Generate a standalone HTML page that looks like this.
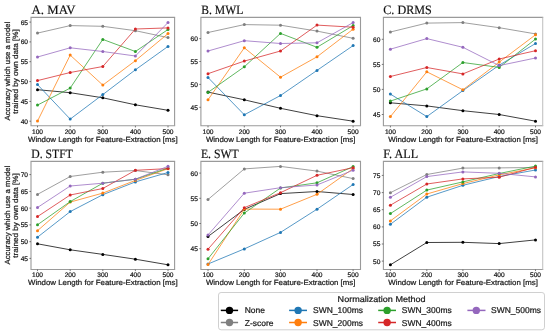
<!DOCTYPE html>
<html><head><meta charset="utf-8"><title>Normalization comparison</title>
<style>html,body{margin:0;padding:0;background:#fff;}svg{display:block;filter:blur(0.25px);}text{font-family:"Liberation Sans", sans-serif;text-rendering:geometricPrecision;stroke:#1a1a1a;stroke-width:0.22px;}text.ttl{font-family:"Liberation Serif", serif;stroke:#111;stroke-width:0.18px;}</style></head><body>
<svg width="550" height="335" viewBox="0 0 550 335">
<rect x="0" y="0" width="550" height="335" fill="#fff"/>
<text class="ttl" x="31.6" y="13.6" font-size="12.8" fill="#111" textLength="44.0" lengthAdjust="spacingAndGlyphs">A. MAV</text>
<path d="M30.45 17.40 H175.15 M31.00 17.40 V125.80 M30.45 125.80 H175.15" fill="none" stroke="#9a9a9a" stroke-width="1.1"/>
<path d="M174.60 17.40 V125.80" fill="none" stroke="#9a9a9a" stroke-width="1.1"/>
<line x1="29.4" y1="22.10" x2="31.0" y2="22.10" stroke="#555" stroke-width="0.8"/>
<text x="28.0" y="24.55" font-size="6.6" fill="#1a1a1a" text-anchor="end">65</text>
<line x1="29.4" y1="41.90" x2="31.0" y2="41.90" stroke="#555" stroke-width="0.8"/>
<text x="28.0" y="44.35" font-size="6.6" fill="#1a1a1a" text-anchor="end">60</text>
<line x1="29.4" y1="61.70" x2="31.0" y2="61.70" stroke="#555" stroke-width="0.8"/>
<text x="28.0" y="64.15" font-size="6.6" fill="#1a1a1a" text-anchor="end">55</text>
<line x1="29.4" y1="81.60" x2="31.0" y2="81.60" stroke="#555" stroke-width="0.8"/>
<text x="28.0" y="84.05" font-size="6.6" fill="#1a1a1a" text-anchor="end">50</text>
<line x1="29.4" y1="101.40" x2="31.0" y2="101.40" stroke="#555" stroke-width="0.8"/>
<text x="28.0" y="103.85" font-size="6.6" fill="#1a1a1a" text-anchor="end">45</text>
<line x1="29.4" y1="121.20" x2="31.0" y2="121.20" stroke="#555" stroke-width="0.8"/>
<text x="28.0" y="123.65" font-size="6.6" fill="#1a1a1a" text-anchor="end">40</text>
<line x1="37.50" y1="125.8" x2="37.50" y2="127.4" stroke="#555" stroke-width="0.8"/>
<text x="37.50" y="133.5" font-size="6.6" fill="#1a1a1a" text-anchor="middle">100</text>
<line x1="70.20" y1="125.8" x2="70.20" y2="127.4" stroke="#555" stroke-width="0.8"/>
<text x="70.20" y="133.5" font-size="6.6" fill="#1a1a1a" text-anchor="middle">200</text>
<line x1="102.80" y1="125.8" x2="102.80" y2="127.4" stroke="#555" stroke-width="0.8"/>
<text x="102.80" y="133.5" font-size="6.6" fill="#1a1a1a" text-anchor="middle">300</text>
<line x1="135.40" y1="125.8" x2="135.40" y2="127.4" stroke="#555" stroke-width="0.8"/>
<text x="135.40" y="133.5" font-size="6.6" fill="#1a1a1a" text-anchor="middle">400</text>
<line x1="168.00" y1="125.8" x2="168.00" y2="127.4" stroke="#555" stroke-width="0.8"/>
<text x="168.00" y="133.5" font-size="6.6" fill="#1a1a1a" text-anchor="middle">500</text>
<text x="102.80" y="141.7" font-size="7.55" fill="#1a1a1a" text-anchor="middle" textLength="149.6" lengthAdjust="spacingAndGlyphs">Window Length for Feature-Extraction [ms]</text>
<polyline points="37.50,89.70 70.20,92.70 102.80,97.80 135.40,104.80 168.00,110.30" fill="none" stroke="#000000" stroke-width="0.75" stroke-linejoin="round"/>
<circle cx="37.50" cy="89.70" r="1.50" fill="#000000"/>
<circle cx="70.20" cy="92.70" r="1.50" fill="#000000"/>
<circle cx="102.80" cy="97.80" r="1.50" fill="#000000"/>
<circle cx="135.40" cy="104.80" r="1.50" fill="#000000"/>
<circle cx="168.00" cy="110.30" r="1.50" fill="#000000"/>
<polyline points="37.50,33.10 70.20,25.60 102.80,26.30 135.40,30.70 168.00,37.60" fill="none" stroke="#7f7f7f" stroke-width="0.75" stroke-linejoin="round"/>
<circle cx="37.50" cy="33.10" r="1.50" fill="#7f7f7f"/>
<circle cx="70.20" cy="25.60" r="1.50" fill="#7f7f7f"/>
<circle cx="102.80" cy="26.30" r="1.50" fill="#7f7f7f"/>
<circle cx="135.40" cy="30.70" r="1.50" fill="#7f7f7f"/>
<circle cx="168.00" cy="37.60" r="1.50" fill="#7f7f7f"/>
<polyline points="37.50,84.60 70.20,119.10 102.80,94.60 135.40,69.80 168.00,46.40" fill="none" stroke="#1f77b4" stroke-width="0.75" stroke-linejoin="round"/>
<circle cx="37.50" cy="84.60" r="1.50" fill="#1f77b4"/>
<circle cx="70.20" cy="119.10" r="1.50" fill="#1f77b4"/>
<circle cx="102.80" cy="94.60" r="1.50" fill="#1f77b4"/>
<circle cx="135.40" cy="69.80" r="1.50" fill="#1f77b4"/>
<circle cx="168.00" cy="46.40" r="1.50" fill="#1f77b4"/>
<polyline points="37.50,121.10 70.20,55.10 102.80,85.10 135.40,60.70 168.00,33.60" fill="none" stroke="#ff7f0e" stroke-width="0.75" stroke-linejoin="round"/>
<circle cx="37.50" cy="121.10" r="1.50" fill="#ff7f0e"/>
<circle cx="70.20" cy="55.10" r="1.50" fill="#ff7f0e"/>
<circle cx="102.80" cy="85.10" r="1.50" fill="#ff7f0e"/>
<circle cx="135.40" cy="60.70" r="1.50" fill="#ff7f0e"/>
<circle cx="168.00" cy="33.60" r="1.50" fill="#ff7f0e"/>
<polyline points="37.50,105.10 70.20,88.10 102.80,39.40 135.40,51.50 168.00,29.50" fill="none" stroke="#2ca02c" stroke-width="0.75" stroke-linejoin="round"/>
<circle cx="37.50" cy="105.10" r="1.50" fill="#2ca02c"/>
<circle cx="70.20" cy="88.10" r="1.50" fill="#2ca02c"/>
<circle cx="102.80" cy="39.40" r="1.50" fill="#2ca02c"/>
<circle cx="135.40" cy="51.50" r="1.50" fill="#2ca02c"/>
<circle cx="168.00" cy="29.50" r="1.50" fill="#2ca02c"/>
<polyline points="37.50,80.60 70.20,72.50 102.80,66.50 135.40,29.00 168.00,27.90" fill="none" stroke="#d62728" stroke-width="0.75" stroke-linejoin="round"/>
<circle cx="37.50" cy="80.60" r="1.50" fill="#d62728"/>
<circle cx="70.20" cy="72.50" r="1.50" fill="#d62728"/>
<circle cx="102.80" cy="66.50" r="1.50" fill="#d62728"/>
<circle cx="135.40" cy="29.00" r="1.50" fill="#d62728"/>
<circle cx="168.00" cy="27.90" r="1.50" fill="#d62728"/>
<polyline points="37.50,57.00 70.20,47.80 102.80,51.50 135.40,56.00 168.00,22.50" fill="none" stroke="#9467bd" stroke-width="0.75" stroke-linejoin="round"/>
<circle cx="37.50" cy="57.00" r="1.50" fill="#9467bd"/>
<circle cx="70.20" cy="47.80" r="1.50" fill="#9467bd"/>
<circle cx="102.80" cy="51.50" r="1.50" fill="#9467bd"/>
<circle cx="135.40" cy="56.00" r="1.50" fill="#9467bd"/>
<circle cx="168.00" cy="22.50" r="1.50" fill="#9467bd"/>
<text class="ttl" x="201.3" y="13.6" font-size="12.8" fill="#111" textLength="42.0" lengthAdjust="spacingAndGlyphs">B. MWL</text>
<path d="M200.35 17.40 H361.05 M200.90 17.40 V125.80 M200.35 125.80 H361.05" fill="none" stroke="#9a9a9a" stroke-width="1.1"/>
<path d="M360.50 17.40 V125.80" fill="none" stroke="#9a9a9a" stroke-width="1.1"/>
<line x1="199.3" y1="38.60" x2="200.9" y2="38.60" stroke="#555" stroke-width="0.8"/>
<text x="197.9" y="41.05" font-size="6.6" fill="#1a1a1a" text-anchor="end">60</text>
<line x1="199.3" y1="61.50" x2="200.9" y2="61.50" stroke="#555" stroke-width="0.8"/>
<text x="197.9" y="63.95" font-size="6.6" fill="#1a1a1a" text-anchor="end">55</text>
<line x1="199.3" y1="84.40" x2="200.9" y2="84.40" stroke="#555" stroke-width="0.8"/>
<text x="197.9" y="86.85" font-size="6.6" fill="#1a1a1a" text-anchor="end">50</text>
<line x1="199.3" y1="107.30" x2="200.9" y2="107.30" stroke="#555" stroke-width="0.8"/>
<text x="197.9" y="109.75" font-size="6.6" fill="#1a1a1a" text-anchor="end">45</text>
<line x1="208.00" y1="125.8" x2="208.00" y2="127.4" stroke="#555" stroke-width="0.8"/>
<text x="208.00" y="133.5" font-size="6.6" fill="#1a1a1a" text-anchor="middle">100</text>
<line x1="244.30" y1="125.8" x2="244.30" y2="127.4" stroke="#555" stroke-width="0.8"/>
<text x="244.30" y="133.5" font-size="6.6" fill="#1a1a1a" text-anchor="middle">200</text>
<line x1="280.50" y1="125.8" x2="280.50" y2="127.4" stroke="#555" stroke-width="0.8"/>
<text x="280.50" y="133.5" font-size="6.6" fill="#1a1a1a" text-anchor="middle">300</text>
<line x1="317.00" y1="125.8" x2="317.00" y2="127.4" stroke="#555" stroke-width="0.8"/>
<text x="317.00" y="133.5" font-size="6.6" fill="#1a1a1a" text-anchor="middle">400</text>
<line x1="353.10" y1="125.8" x2="353.10" y2="127.4" stroke="#555" stroke-width="0.8"/>
<text x="353.10" y="133.5" font-size="6.6" fill="#1a1a1a" text-anchor="middle">500</text>
<text x="280.70" y="141.7" font-size="7.55" fill="#1a1a1a" text-anchor="middle" textLength="149.6" lengthAdjust="spacingAndGlyphs">Window Length for Feature-Extraction [ms]</text>
<polyline points="208.00,92.10 244.30,99.80 280.50,108.30 317.00,115.70 353.10,121.20" fill="none" stroke="#000000" stroke-width="0.75" stroke-linejoin="round"/>
<circle cx="208.00" cy="92.10" r="1.50" fill="#000000"/>
<circle cx="244.30" cy="99.80" r="1.50" fill="#000000"/>
<circle cx="280.50" cy="108.30" r="1.50" fill="#000000"/>
<circle cx="317.00" cy="115.70" r="1.50" fill="#000000"/>
<circle cx="353.10" cy="121.20" r="1.50" fill="#000000"/>
<polyline points="208.00,32.50 244.30,24.60 280.50,25.20 317.00,31.10 353.10,38.30" fill="none" stroke="#7f7f7f" stroke-width="0.75" stroke-linejoin="round"/>
<circle cx="208.00" cy="32.50" r="1.50" fill="#7f7f7f"/>
<circle cx="244.30" cy="24.60" r="1.50" fill="#7f7f7f"/>
<circle cx="280.50" cy="25.20" r="1.50" fill="#7f7f7f"/>
<circle cx="317.00" cy="31.10" r="1.50" fill="#7f7f7f"/>
<circle cx="353.10" cy="38.30" r="1.50" fill="#7f7f7f"/>
<polyline points="208.00,77.50 244.30,114.80 280.50,95.50 317.00,70.40 353.10,45.60" fill="none" stroke="#1f77b4" stroke-width="0.75" stroke-linejoin="round"/>
<circle cx="208.00" cy="77.50" r="1.50" fill="#1f77b4"/>
<circle cx="244.30" cy="114.80" r="1.50" fill="#1f77b4"/>
<circle cx="280.50" cy="95.50" r="1.50" fill="#1f77b4"/>
<circle cx="317.00" cy="70.40" r="1.50" fill="#1f77b4"/>
<circle cx="353.10" cy="45.60" r="1.50" fill="#1f77b4"/>
<polyline points="208.00,99.80 244.30,47.80 280.50,77.20 317.00,56.80 353.10,29.20" fill="none" stroke="#ff7f0e" stroke-width="0.75" stroke-linejoin="round"/>
<circle cx="208.00" cy="99.80" r="1.50" fill="#ff7f0e"/>
<circle cx="244.30" cy="47.80" r="1.50" fill="#ff7f0e"/>
<circle cx="280.50" cy="77.20" r="1.50" fill="#ff7f0e"/>
<circle cx="317.00" cy="56.80" r="1.50" fill="#ff7f0e"/>
<circle cx="353.10" cy="29.20" r="1.50" fill="#ff7f0e"/>
<polyline points="208.00,92.40 244.30,66.80 280.50,33.40 317.00,47.30 353.10,25.60" fill="none" stroke="#2ca02c" stroke-width="0.75" stroke-linejoin="round"/>
<circle cx="208.00" cy="92.40" r="1.50" fill="#2ca02c"/>
<circle cx="244.30" cy="66.80" r="1.50" fill="#2ca02c"/>
<circle cx="280.50" cy="33.40" r="1.50" fill="#2ca02c"/>
<circle cx="317.00" cy="47.30" r="1.50" fill="#2ca02c"/>
<circle cx="353.10" cy="25.60" r="1.50" fill="#2ca02c"/>
<polyline points="208.00,73.70 244.30,61.10 280.50,51.00 317.00,25.10 353.10,27.20" fill="none" stroke="#d62728" stroke-width="0.75" stroke-linejoin="round"/>
<circle cx="208.00" cy="73.70" r="1.50" fill="#d62728"/>
<circle cx="244.30" cy="61.10" r="1.50" fill="#d62728"/>
<circle cx="280.50" cy="51.00" r="1.50" fill="#d62728"/>
<circle cx="317.00" cy="25.10" r="1.50" fill="#d62728"/>
<circle cx="353.10" cy="27.20" r="1.50" fill="#d62728"/>
<polyline points="208.00,51.00 244.30,40.70 280.50,43.50 317.00,42.80 353.10,22.60" fill="none" stroke="#9467bd" stroke-width="0.75" stroke-linejoin="round"/>
<circle cx="208.00" cy="51.00" r="1.50" fill="#9467bd"/>
<circle cx="244.30" cy="40.70" r="1.50" fill="#9467bd"/>
<circle cx="280.50" cy="43.50" r="1.50" fill="#9467bd"/>
<circle cx="317.00" cy="42.80" r="1.50" fill="#9467bd"/>
<circle cx="353.10" cy="22.60" r="1.50" fill="#9467bd"/>
<text class="ttl" x="383.3" y="13.6" font-size="12.8" fill="#111" textLength="48.4" lengthAdjust="spacingAndGlyphs">C. DRMS</text>
<path d="M382.85 17.40 H543.25 M383.40 17.40 V125.80 M382.85 125.80 H543.25" fill="none" stroke="#9a9a9a" stroke-width="1.1"/>
<path d="M542.70 17.40 V125.80" fill="none" stroke="#c4c4c4" stroke-width="1.1"/>
<line x1="381.8" y1="39.30" x2="383.4" y2="39.30" stroke="#555" stroke-width="0.8"/>
<text x="380.4" y="41.75" font-size="6.6" fill="#1a1a1a" text-anchor="end">60</text>
<line x1="381.8" y1="64.40" x2="383.4" y2="64.40" stroke="#555" stroke-width="0.8"/>
<text x="380.4" y="66.85" font-size="6.6" fill="#1a1a1a" text-anchor="end">55</text>
<line x1="381.8" y1="89.40" x2="383.4" y2="89.40" stroke="#555" stroke-width="0.8"/>
<text x="380.4" y="91.85" font-size="6.6" fill="#1a1a1a" text-anchor="end">50</text>
<line x1="381.8" y1="114.50" x2="383.4" y2="114.50" stroke="#555" stroke-width="0.8"/>
<text x="380.4" y="116.95" font-size="6.6" fill="#1a1a1a" text-anchor="end">45</text>
<line x1="390.40" y1="125.8" x2="390.40" y2="127.4" stroke="#555" stroke-width="0.8"/>
<text x="390.40" y="133.5" font-size="6.6" fill="#1a1a1a" text-anchor="middle">100</text>
<line x1="426.80" y1="125.8" x2="426.80" y2="127.4" stroke="#555" stroke-width="0.8"/>
<text x="426.80" y="133.5" font-size="6.6" fill="#1a1a1a" text-anchor="middle">200</text>
<line x1="462.90" y1="125.8" x2="462.90" y2="127.4" stroke="#555" stroke-width="0.8"/>
<text x="462.90" y="133.5" font-size="6.6" fill="#1a1a1a" text-anchor="middle">300</text>
<line x1="499.20" y1="125.8" x2="499.20" y2="127.4" stroke="#555" stroke-width="0.8"/>
<text x="499.20" y="133.5" font-size="6.6" fill="#1a1a1a" text-anchor="middle">400</text>
<line x1="535.50" y1="125.8" x2="535.50" y2="127.4" stroke="#555" stroke-width="0.8"/>
<text x="535.50" y="133.5" font-size="6.6" fill="#1a1a1a" text-anchor="middle">500</text>
<text x="463.05" y="141.7" font-size="7.55" fill="#1a1a1a" text-anchor="middle" textLength="149.6" lengthAdjust="spacingAndGlyphs">Window Length for Feature-Extraction [ms]</text>
<polyline points="390.40,102.80 426.80,105.90 462.90,110.70 499.20,114.50 535.50,121.20" fill="none" stroke="#000000" stroke-width="0.75" stroke-linejoin="round"/>
<circle cx="390.40" cy="102.80" r="1.50" fill="#000000"/>
<circle cx="426.80" cy="105.90" r="1.50" fill="#000000"/>
<circle cx="462.90" cy="110.70" r="1.50" fill="#000000"/>
<circle cx="499.20" cy="114.50" r="1.50" fill="#000000"/>
<circle cx="535.50" cy="121.20" r="1.50" fill="#000000"/>
<polyline points="390.40,32.00 426.80,23.10 462.90,22.60 499.20,27.70 535.50,33.90" fill="none" stroke="#7f7f7f" stroke-width="0.75" stroke-linejoin="round"/>
<circle cx="390.40" cy="32.00" r="1.50" fill="#7f7f7f"/>
<circle cx="426.80" cy="23.10" r="1.50" fill="#7f7f7f"/>
<circle cx="462.90" cy="22.60" r="1.50" fill="#7f7f7f"/>
<circle cx="499.20" cy="27.70" r="1.50" fill="#7f7f7f"/>
<circle cx="535.50" cy="33.90" r="1.50" fill="#7f7f7f"/>
<polyline points="390.40,94.10 426.80,116.60 462.90,90.60 499.20,65.20 535.50,43.50" fill="none" stroke="#1f77b4" stroke-width="0.75" stroke-linejoin="round"/>
<circle cx="390.40" cy="94.10" r="1.50" fill="#1f77b4"/>
<circle cx="426.80" cy="116.60" r="1.50" fill="#1f77b4"/>
<circle cx="462.90" cy="90.60" r="1.50" fill="#1f77b4"/>
<circle cx="499.20" cy="65.20" r="1.50" fill="#1f77b4"/>
<circle cx="535.50" cy="43.50" r="1.50" fill="#1f77b4"/>
<polyline points="390.40,116.60 426.80,71.80 462.90,89.80 499.20,62.10 535.50,34.80" fill="none" stroke="#ff7f0e" stroke-width="0.75" stroke-linejoin="round"/>
<circle cx="390.40" cy="116.60" r="1.50" fill="#ff7f0e"/>
<circle cx="426.80" cy="71.80" r="1.50" fill="#ff7f0e"/>
<circle cx="462.90" cy="89.80" r="1.50" fill="#ff7f0e"/>
<circle cx="499.20" cy="62.10" r="1.50" fill="#ff7f0e"/>
<circle cx="535.50" cy="34.80" r="1.50" fill="#ff7f0e"/>
<polyline points="390.40,101.10 426.80,88.90 462.90,62.50 499.20,67.40 535.50,39.10" fill="none" stroke="#2ca02c" stroke-width="0.75" stroke-linejoin="round"/>
<circle cx="390.40" cy="101.10" r="1.50" fill="#2ca02c"/>
<circle cx="426.80" cy="88.90" r="1.50" fill="#2ca02c"/>
<circle cx="462.90" cy="62.50" r="1.50" fill="#2ca02c"/>
<circle cx="499.20" cy="67.40" r="1.50" fill="#2ca02c"/>
<circle cx="535.50" cy="39.10" r="1.50" fill="#2ca02c"/>
<polyline points="390.40,76.50 426.80,67.50 462.90,73.90 499.20,59.00 535.50,50.70" fill="none" stroke="#d62728" stroke-width="0.75" stroke-linejoin="round"/>
<circle cx="390.40" cy="76.50" r="1.50" fill="#d62728"/>
<circle cx="426.80" cy="67.50" r="1.50" fill="#d62728"/>
<circle cx="462.90" cy="73.90" r="1.50" fill="#d62728"/>
<circle cx="499.20" cy="59.00" r="1.50" fill="#d62728"/>
<circle cx="535.50" cy="50.70" r="1.50" fill="#d62728"/>
<polyline points="390.40,49.20 426.80,38.60 462.90,47.30 499.20,65.60 535.50,58.00" fill="none" stroke="#9467bd" stroke-width="0.75" stroke-linejoin="round"/>
<circle cx="390.40" cy="49.20" r="1.50" fill="#9467bd"/>
<circle cx="426.80" cy="38.60" r="1.50" fill="#9467bd"/>
<circle cx="462.90" cy="47.30" r="1.50" fill="#9467bd"/>
<circle cx="499.20" cy="65.60" r="1.50" fill="#9467bd"/>
<circle cx="535.50" cy="58.00" r="1.50" fill="#9467bd"/>
<text class="ttl" x="31.3" y="157.7" font-size="12.8" fill="#111" textLength="41.6" lengthAdjust="spacingAndGlyphs">D. STFT</text>
<path d="M30.45 161.40 H175.15 M31.00 161.40 V269.50 M30.45 269.50 H175.15" fill="none" stroke="#9a9a9a" stroke-width="1.1"/>
<path d="M174.60 161.40 V269.50" fill="none" stroke="#9a9a9a" stroke-width="1.1"/>
<line x1="29.4" y1="174.60" x2="31.0" y2="174.60" stroke="#555" stroke-width="0.8"/>
<text x="28.0" y="177.05" font-size="6.6" fill="#1a1a1a" text-anchor="end">70</text>
<line x1="29.4" y1="191.40" x2="31.0" y2="191.40" stroke="#555" stroke-width="0.8"/>
<text x="28.0" y="193.85" font-size="6.6" fill="#1a1a1a" text-anchor="end">65</text>
<line x1="29.4" y1="208.10" x2="31.0" y2="208.10" stroke="#555" stroke-width="0.8"/>
<text x="28.0" y="210.55" font-size="6.6" fill="#1a1a1a" text-anchor="end">60</text>
<line x1="29.4" y1="224.90" x2="31.0" y2="224.90" stroke="#555" stroke-width="0.8"/>
<text x="28.0" y="227.35" font-size="6.6" fill="#1a1a1a" text-anchor="end">55</text>
<line x1="29.4" y1="241.70" x2="31.0" y2="241.70" stroke="#555" stroke-width="0.8"/>
<text x="28.0" y="244.15" font-size="6.6" fill="#1a1a1a" text-anchor="end">50</text>
<line x1="29.4" y1="258.40" x2="31.0" y2="258.40" stroke="#555" stroke-width="0.8"/>
<text x="28.0" y="260.85" font-size="6.6" fill="#1a1a1a" text-anchor="end">45</text>
<line x1="37.50" y1="269.5" x2="37.50" y2="271.1" stroke="#555" stroke-width="0.8"/>
<text x="37.50" y="276.9" font-size="6.6" fill="#1a1a1a" text-anchor="middle">100</text>
<line x1="70.20" y1="269.5" x2="70.20" y2="271.1" stroke="#555" stroke-width="0.8"/>
<text x="70.20" y="276.9" font-size="6.6" fill="#1a1a1a" text-anchor="middle">200</text>
<line x1="102.80" y1="269.5" x2="102.80" y2="271.1" stroke="#555" stroke-width="0.8"/>
<text x="102.80" y="276.9" font-size="6.6" fill="#1a1a1a" text-anchor="middle">300</text>
<line x1="135.40" y1="269.5" x2="135.40" y2="271.1" stroke="#555" stroke-width="0.8"/>
<text x="135.40" y="276.9" font-size="6.6" fill="#1a1a1a" text-anchor="middle">400</text>
<line x1="168.00" y1="269.5" x2="168.00" y2="271.1" stroke="#555" stroke-width="0.8"/>
<text x="168.00" y="276.9" font-size="6.6" fill="#1a1a1a" text-anchor="middle">500</text>
<text x="102.80" y="285.4" font-size="7.55" fill="#1a1a1a" text-anchor="middle" textLength="149.6" lengthAdjust="spacingAndGlyphs">Window Length for Feature-Extraction [ms]</text>
<polyline points="37.50,243.80 70.20,249.80 102.80,254.40 135.40,259.20 168.00,264.80" fill="none" stroke="#000000" stroke-width="0.75" stroke-linejoin="round"/>
<circle cx="37.50" cy="243.80" r="1.50" fill="#000000"/>
<circle cx="70.20" cy="249.80" r="1.50" fill="#000000"/>
<circle cx="102.80" cy="254.40" r="1.50" fill="#000000"/>
<circle cx="135.40" cy="259.20" r="1.50" fill="#000000"/>
<circle cx="168.00" cy="264.80" r="1.50" fill="#000000"/>
<polyline points="37.50,194.40 70.20,176.50 102.80,172.20 135.40,170.50 168.00,174.80" fill="none" stroke="#7f7f7f" stroke-width="0.75" stroke-linejoin="round"/>
<circle cx="37.50" cy="194.40" r="1.50" fill="#7f7f7f"/>
<circle cx="70.20" cy="176.50" r="1.50" fill="#7f7f7f"/>
<circle cx="102.80" cy="172.20" r="1.50" fill="#7f7f7f"/>
<circle cx="135.40" cy="170.50" r="1.50" fill="#7f7f7f"/>
<circle cx="168.00" cy="174.80" r="1.50" fill="#7f7f7f"/>
<polyline points="37.50,237.20 70.20,211.60 102.80,194.70 135.40,181.90 168.00,172.50" fill="none" stroke="#1f77b4" stroke-width="0.75" stroke-linejoin="round"/>
<circle cx="37.50" cy="237.20" r="1.50" fill="#1f77b4"/>
<circle cx="70.20" cy="211.60" r="1.50" fill="#1f77b4"/>
<circle cx="102.80" cy="194.70" r="1.50" fill="#1f77b4"/>
<circle cx="135.40" cy="181.90" r="1.50" fill="#1f77b4"/>
<circle cx="168.00" cy="172.50" r="1.50" fill="#1f77b4"/>
<polyline points="37.50,230.70 70.20,202.10 102.80,193.10 135.40,180.40 168.00,168.70" fill="none" stroke="#ff7f0e" stroke-width="0.75" stroke-linejoin="round"/>
<circle cx="37.50" cy="230.70" r="1.50" fill="#ff7f0e"/>
<circle cx="70.20" cy="202.10" r="1.50" fill="#ff7f0e"/>
<circle cx="102.80" cy="193.10" r="1.50" fill="#ff7f0e"/>
<circle cx="135.40" cy="180.40" r="1.50" fill="#ff7f0e"/>
<circle cx="168.00" cy="168.70" r="1.50" fill="#ff7f0e"/>
<polyline points="37.50,224.80 70.20,201.60 102.80,183.20 135.40,179.20 168.00,168.10" fill="none" stroke="#2ca02c" stroke-width="0.75" stroke-linejoin="round"/>
<circle cx="37.50" cy="224.80" r="1.50" fill="#2ca02c"/>
<circle cx="70.20" cy="201.60" r="1.50" fill="#2ca02c"/>
<circle cx="102.80" cy="183.20" r="1.50" fill="#2ca02c"/>
<circle cx="135.40" cy="179.20" r="1.50" fill="#2ca02c"/>
<circle cx="168.00" cy="168.10" r="1.50" fill="#2ca02c"/>
<polyline points="37.50,216.60 70.20,195.00 102.80,188.50 135.40,170.30 168.00,168.60" fill="none" stroke="#d62728" stroke-width="0.75" stroke-linejoin="round"/>
<circle cx="37.50" cy="216.60" r="1.50" fill="#d62728"/>
<circle cx="70.20" cy="195.00" r="1.50" fill="#d62728"/>
<circle cx="102.80" cy="188.50" r="1.50" fill="#d62728"/>
<circle cx="135.40" cy="170.30" r="1.50" fill="#d62728"/>
<circle cx="168.00" cy="168.60" r="1.50" fill="#d62728"/>
<polyline points="37.50,207.50 70.20,186.00 102.80,183.20 135.40,179.20 168.00,166.30" fill="none" stroke="#9467bd" stroke-width="0.75" stroke-linejoin="round"/>
<circle cx="37.50" cy="207.50" r="1.50" fill="#9467bd"/>
<circle cx="70.20" cy="186.00" r="1.50" fill="#9467bd"/>
<circle cx="102.80" cy="183.20" r="1.50" fill="#9467bd"/>
<circle cx="135.40" cy="179.20" r="1.50" fill="#9467bd"/>
<circle cx="168.00" cy="166.30" r="1.50" fill="#9467bd"/>
<text class="ttl" x="200.9" y="157.7" font-size="12.8" fill="#111" textLength="37.8" lengthAdjust="spacingAndGlyphs">E. SWT</text>
<path d="M200.35 161.40 H361.05 M200.90 161.40 V269.50 M200.35 269.50 H361.05" fill="none" stroke="#9a9a9a" stroke-width="1.1"/>
<path d="M360.50 161.40 V269.50" fill="none" stroke="#9a9a9a" stroke-width="1.1"/>
<line x1="199.3" y1="173.10" x2="200.9" y2="173.10" stroke="#555" stroke-width="0.8"/>
<text x="197.9" y="175.55" font-size="6.6" fill="#1a1a1a" text-anchor="end">60</text>
<line x1="199.3" y1="198.30" x2="200.9" y2="198.30" stroke="#555" stroke-width="0.8"/>
<text x="197.9" y="200.75" font-size="6.6" fill="#1a1a1a" text-anchor="end">55</text>
<line x1="199.3" y1="223.50" x2="200.9" y2="223.50" stroke="#555" stroke-width="0.8"/>
<text x="197.9" y="225.95" font-size="6.6" fill="#1a1a1a" text-anchor="end">50</text>
<line x1="199.3" y1="248.70" x2="200.9" y2="248.70" stroke="#555" stroke-width="0.8"/>
<text x="197.9" y="251.15" font-size="6.6" fill="#1a1a1a" text-anchor="end">45</text>
<line x1="208.00" y1="269.5" x2="208.00" y2="271.1" stroke="#555" stroke-width="0.8"/>
<text x="208.00" y="276.9" font-size="6.6" fill="#1a1a1a" text-anchor="middle">100</text>
<line x1="244.30" y1="269.5" x2="244.30" y2="271.1" stroke="#555" stroke-width="0.8"/>
<text x="244.30" y="276.9" font-size="6.6" fill="#1a1a1a" text-anchor="middle">200</text>
<line x1="280.50" y1="269.5" x2="280.50" y2="271.1" stroke="#555" stroke-width="0.8"/>
<text x="280.50" y="276.9" font-size="6.6" fill="#1a1a1a" text-anchor="middle">300</text>
<line x1="317.00" y1="269.5" x2="317.00" y2="271.1" stroke="#555" stroke-width="0.8"/>
<text x="317.00" y="276.9" font-size="6.6" fill="#1a1a1a" text-anchor="middle">400</text>
<line x1="353.10" y1="269.5" x2="353.10" y2="271.1" stroke="#555" stroke-width="0.8"/>
<text x="353.10" y="276.9" font-size="6.6" fill="#1a1a1a" text-anchor="middle">500</text>
<text x="280.70" y="285.4" font-size="7.55" fill="#1a1a1a" text-anchor="middle" textLength="149.6" lengthAdjust="spacingAndGlyphs">Window Length for Feature-Extraction [ms]</text>
<polyline points="208.00,236.50 244.30,209.40 280.50,193.60 317.00,191.50 353.10,194.50" fill="none" stroke="#000000" stroke-width="0.75" stroke-linejoin="round"/>
<circle cx="208.00" cy="236.50" r="1.50" fill="#000000"/>
<circle cx="244.30" cy="209.40" r="1.50" fill="#000000"/>
<circle cx="280.50" cy="193.60" r="1.50" fill="#000000"/>
<circle cx="317.00" cy="191.50" r="1.50" fill="#000000"/>
<circle cx="353.10" cy="194.50" r="1.50" fill="#000000"/>
<polyline points="208.00,199.50 244.30,168.90 280.50,166.40 317.00,171.10 353.10,178.60" fill="none" stroke="#7f7f7f" stroke-width="0.75" stroke-linejoin="round"/>
<circle cx="208.00" cy="199.50" r="1.50" fill="#7f7f7f"/>
<circle cx="244.30" cy="168.90" r="1.50" fill="#7f7f7f"/>
<circle cx="280.50" cy="166.40" r="1.50" fill="#7f7f7f"/>
<circle cx="317.00" cy="171.10" r="1.50" fill="#7f7f7f"/>
<circle cx="353.10" cy="178.60" r="1.50" fill="#7f7f7f"/>
<polyline points="208.00,264.00 244.30,248.90 280.50,232.40 317.00,209.20 353.10,184.50" fill="none" stroke="#1f77b4" stroke-width="0.75" stroke-linejoin="round"/>
<circle cx="208.00" cy="264.00" r="1.50" fill="#1f77b4"/>
<circle cx="244.30" cy="248.90" r="1.50" fill="#1f77b4"/>
<circle cx="280.50" cy="232.40" r="1.50" fill="#1f77b4"/>
<circle cx="317.00" cy="209.20" r="1.50" fill="#1f77b4"/>
<circle cx="353.10" cy="184.50" r="1.50" fill="#1f77b4"/>
<polyline points="208.00,264.60 244.30,209.10 280.50,209.20 317.00,194.30 353.10,168.60" fill="none" stroke="#ff7f0e" stroke-width="0.75" stroke-linejoin="round"/>
<circle cx="208.00" cy="264.60" r="1.50" fill="#ff7f0e"/>
<circle cx="244.30" cy="209.10" r="1.50" fill="#ff7f0e"/>
<circle cx="280.50" cy="209.20" r="1.50" fill="#ff7f0e"/>
<circle cx="317.00" cy="194.30" r="1.50" fill="#ff7f0e"/>
<circle cx="353.10" cy="168.60" r="1.50" fill="#ff7f0e"/>
<polyline points="208.00,258.80 244.30,213.10 280.50,188.00 317.00,182.80 353.10,166.60" fill="none" stroke="#2ca02c" stroke-width="0.75" stroke-linejoin="round"/>
<circle cx="208.00" cy="258.80" r="1.50" fill="#2ca02c"/>
<circle cx="244.30" cy="213.10" r="1.50" fill="#2ca02c"/>
<circle cx="280.50" cy="188.00" r="1.50" fill="#2ca02c"/>
<circle cx="317.00" cy="182.80" r="1.50" fill="#2ca02c"/>
<circle cx="353.10" cy="166.60" r="1.50" fill="#2ca02c"/>
<polyline points="208.00,249.20 244.30,207.70 280.50,192.70 317.00,175.30 353.10,167.70" fill="none" stroke="#d62728" stroke-width="0.75" stroke-linejoin="round"/>
<circle cx="208.00" cy="249.20" r="1.50" fill="#d62728"/>
<circle cx="244.30" cy="207.70" r="1.50" fill="#d62728"/>
<circle cx="280.50" cy="192.70" r="1.50" fill="#d62728"/>
<circle cx="317.00" cy="175.30" r="1.50" fill="#d62728"/>
<circle cx="353.10" cy="167.70" r="1.50" fill="#d62728"/>
<polyline points="208.00,235.00 244.30,193.20 280.50,187.70 317.00,185.00 353.10,170.20" fill="none" stroke="#9467bd" stroke-width="0.75" stroke-linejoin="round"/>
<circle cx="208.00" cy="235.00" r="1.50" fill="#9467bd"/>
<circle cx="244.30" cy="193.20" r="1.50" fill="#9467bd"/>
<circle cx="280.50" cy="187.70" r="1.50" fill="#9467bd"/>
<circle cx="317.00" cy="185.00" r="1.50" fill="#9467bd"/>
<circle cx="353.10" cy="170.20" r="1.50" fill="#9467bd"/>
<text class="ttl" x="383.3" y="157.7" font-size="12.8" fill="#111" textLength="34.8" lengthAdjust="spacingAndGlyphs">F. ALL</text>
<path d="M382.85 161.40 H543.25 M383.40 161.40 V269.50 M382.85 269.50 H543.25" fill="none" stroke="#9a9a9a" stroke-width="1.1"/>
<path d="M542.70 161.40 V269.50" fill="none" stroke="#c4c4c4" stroke-width="1.1"/>
<line x1="381.8" y1="175.40" x2="383.4" y2="175.40" stroke="#555" stroke-width="0.8"/>
<text x="380.4" y="177.85" font-size="6.6" fill="#1a1a1a" text-anchor="end">75</text>
<line x1="381.8" y1="192.60" x2="383.4" y2="192.60" stroke="#555" stroke-width="0.8"/>
<text x="380.4" y="195.05" font-size="6.6" fill="#1a1a1a" text-anchor="end">70</text>
<line x1="381.8" y1="209.70" x2="383.4" y2="209.70" stroke="#555" stroke-width="0.8"/>
<text x="380.4" y="212.15" font-size="6.6" fill="#1a1a1a" text-anchor="end">65</text>
<line x1="381.8" y1="226.90" x2="383.4" y2="226.90" stroke="#555" stroke-width="0.8"/>
<text x="380.4" y="229.35" font-size="6.6" fill="#1a1a1a" text-anchor="end">60</text>
<line x1="381.8" y1="244.00" x2="383.4" y2="244.00" stroke="#555" stroke-width="0.8"/>
<text x="380.4" y="246.45" font-size="6.6" fill="#1a1a1a" text-anchor="end">55</text>
<line x1="381.8" y1="261.10" x2="383.4" y2="261.10" stroke="#555" stroke-width="0.8"/>
<text x="380.4" y="263.55" font-size="6.6" fill="#1a1a1a" text-anchor="end">50</text>
<line x1="390.40" y1="269.5" x2="390.40" y2="271.1" stroke="#555" stroke-width="0.8"/>
<text x="390.40" y="276.9" font-size="6.6" fill="#1a1a1a" text-anchor="middle">100</text>
<line x1="426.80" y1="269.5" x2="426.80" y2="271.1" stroke="#555" stroke-width="0.8"/>
<text x="426.80" y="276.9" font-size="6.6" fill="#1a1a1a" text-anchor="middle">200</text>
<line x1="462.90" y1="269.5" x2="462.90" y2="271.1" stroke="#555" stroke-width="0.8"/>
<text x="462.90" y="276.9" font-size="6.6" fill="#1a1a1a" text-anchor="middle">300</text>
<line x1="499.20" y1="269.5" x2="499.20" y2="271.1" stroke="#555" stroke-width="0.8"/>
<text x="499.20" y="276.9" font-size="6.6" fill="#1a1a1a" text-anchor="middle">400</text>
<line x1="535.50" y1="269.5" x2="535.50" y2="271.1" stroke="#555" stroke-width="0.8"/>
<text x="535.50" y="276.9" font-size="6.6" fill="#1a1a1a" text-anchor="middle">500</text>
<text x="463.05" y="285.4" font-size="7.55" fill="#1a1a1a" text-anchor="middle" textLength="149.6" lengthAdjust="spacingAndGlyphs">Window Length for Feature-Extraction [ms]</text>
<polyline points="390.40,264.80 426.80,242.50 462.90,242.30 499.20,243.60 535.50,239.90" fill="none" stroke="#000000" stroke-width="0.75" stroke-linejoin="round"/>
<circle cx="390.40" cy="264.80" r="1.50" fill="#000000"/>
<circle cx="426.80" cy="242.50" r="1.50" fill="#000000"/>
<circle cx="462.90" cy="242.30" r="1.50" fill="#000000"/>
<circle cx="499.20" cy="243.60" r="1.50" fill="#000000"/>
<circle cx="535.50" cy="239.90" r="1.50" fill="#000000"/>
<polyline points="390.40,192.70 426.80,174.50 462.90,168.10 499.20,167.90 535.50,167.50" fill="none" stroke="#7f7f7f" stroke-width="0.75" stroke-linejoin="round"/>
<circle cx="390.40" cy="192.70" r="1.50" fill="#7f7f7f"/>
<circle cx="426.80" cy="174.50" r="1.50" fill="#7f7f7f"/>
<circle cx="462.90" cy="168.10" r="1.50" fill="#7f7f7f"/>
<circle cx="499.20" cy="167.90" r="1.50" fill="#7f7f7f"/>
<circle cx="535.50" cy="167.50" r="1.50" fill="#7f7f7f"/>
<polyline points="390.40,224.30 426.80,197.20 462.90,185.30 499.20,176.50 535.50,170.00" fill="none" stroke="#1f77b4" stroke-width="0.75" stroke-linejoin="round"/>
<circle cx="390.40" cy="224.30" r="1.50" fill="#1f77b4"/>
<circle cx="426.80" cy="197.20" r="1.50" fill="#1f77b4"/>
<circle cx="462.90" cy="185.30" r="1.50" fill="#1f77b4"/>
<circle cx="499.20" cy="176.50" r="1.50" fill="#1f77b4"/>
<circle cx="535.50" cy="170.00" r="1.50" fill="#1f77b4"/>
<polyline points="390.40,220.90 426.80,194.00 462.90,183.60 499.20,174.90 535.50,167.80" fill="none" stroke="#ff7f0e" stroke-width="0.75" stroke-linejoin="round"/>
<circle cx="390.40" cy="220.90" r="1.50" fill="#ff7f0e"/>
<circle cx="426.80" cy="194.00" r="1.50" fill="#ff7f0e"/>
<circle cx="462.90" cy="183.60" r="1.50" fill="#ff7f0e"/>
<circle cx="499.20" cy="174.90" r="1.50" fill="#ff7f0e"/>
<circle cx="535.50" cy="167.80" r="1.50" fill="#ff7f0e"/>
<polyline points="390.40,213.60 426.80,190.10 462.90,181.90 499.20,173.50 535.50,166.10" fill="none" stroke="#2ca02c" stroke-width="0.75" stroke-linejoin="round"/>
<circle cx="390.40" cy="213.60" r="1.50" fill="#2ca02c"/>
<circle cx="426.80" cy="190.10" r="1.50" fill="#2ca02c"/>
<circle cx="462.90" cy="181.90" r="1.50" fill="#2ca02c"/>
<circle cx="499.20" cy="173.50" r="1.50" fill="#2ca02c"/>
<circle cx="535.50" cy="166.10" r="1.50" fill="#2ca02c"/>
<polyline points="390.40,205.20 426.80,184.00 462.90,178.90 499.20,177.20 535.50,167.30" fill="none" stroke="#d62728" stroke-width="0.75" stroke-linejoin="round"/>
<circle cx="390.40" cy="205.20" r="1.50" fill="#d62728"/>
<circle cx="426.80" cy="184.00" r="1.50" fill="#d62728"/>
<circle cx="462.90" cy="178.90" r="1.50" fill="#d62728"/>
<circle cx="499.20" cy="177.20" r="1.50" fill="#d62728"/>
<circle cx="535.50" cy="167.30" r="1.50" fill="#d62728"/>
<polyline points="390.40,197.30 426.80,176.60 462.90,171.90 499.20,173.30 535.50,176.90" fill="none" stroke="#9467bd" stroke-width="0.75" stroke-linejoin="round"/>
<circle cx="390.40" cy="197.30" r="1.50" fill="#9467bd"/>
<circle cx="426.80" cy="176.60" r="1.50" fill="#9467bd"/>
<circle cx="462.90" cy="171.90" r="1.50" fill="#9467bd"/>
<circle cx="499.20" cy="173.30" r="1.50" fill="#9467bd"/>
<circle cx="535.50" cy="176.90" r="1.50" fill="#9467bd"/>
<text transform="translate(9.8,71.10) rotate(-90)" font-size="7.55" fill="#1a1a1a" text-anchor="middle" textLength="98.8" lengthAdjust="spacingAndGlyphs">Accuracy which use a model</text>
<text transform="translate(17.6,71.50) rotate(-90)" font-size="7.55" fill="#1a1a1a" text-anchor="middle" textLength="84.6" lengthAdjust="spacingAndGlyphs">trained by own data [%]</text>
<text transform="translate(9.8,215.10) rotate(-90)" font-size="7.55" fill="#1a1a1a" text-anchor="middle" textLength="98.8" lengthAdjust="spacingAndGlyphs">Accuracy which use a model</text>
<text transform="translate(17.6,215.50) rotate(-90)" font-size="7.55" fill="#1a1a1a" text-anchor="middle" textLength="84.6" lengthAdjust="spacingAndGlyphs">trained by own data [%]</text>
<rect x="218.5" y="292.5" width="326" height="37.3" rx="2.6" ry="2.6" fill="#fff" stroke="#d0d0d0" stroke-width="1"/>
<text x="381.6" y="302.0" font-size="8.4" fill="#1a1a1a" text-anchor="middle" textLength="88" lengthAdjust="spacingAndGlyphs">Normalization Method</text>
<line x1="220.8" y1="310.40" x2="238.1" y2="310.40" stroke="#000000" stroke-width="1.5"/>
<circle cx="229.50" cy="310.40" r="3.7" fill="#000000"/>
<text x="244.7" y="313.40" font-size="8.4" fill="#1a1a1a" textLength="20.3" lengthAdjust="spacingAndGlyphs">None</text>
<line x1="220.8" y1="322.50" x2="238.1" y2="322.50" stroke="#7f7f7f" stroke-width="1.5"/>
<circle cx="229.50" cy="322.50" r="3.7" fill="#7f7f7f"/>
<text x="244.7" y="325.50" font-size="8.4" fill="#1a1a1a" textLength="28.8" lengthAdjust="spacingAndGlyphs">Z-score</text>
<line x1="289.1" y1="310.40" x2="307.0" y2="310.40" stroke="#1f77b4" stroke-width="1.5"/>
<circle cx="298.10" cy="310.40" r="3.7" fill="#1f77b4"/>
<text x="313.1" y="313.40" font-size="8.4" fill="#1a1a1a" textLength="49.9" lengthAdjust="spacingAndGlyphs">SWN_100ms</text>
<line x1="289.1" y1="322.50" x2="307.0" y2="322.50" stroke="#ff7f0e" stroke-width="1.5"/>
<circle cx="298.10" cy="322.50" r="3.7" fill="#ff7f0e"/>
<text x="313.1" y="325.50" font-size="8.4" fill="#1a1a1a" textLength="49.9" lengthAdjust="spacingAndGlyphs">SWN_200ms</text>
<line x1="378.2" y1="310.40" x2="396.0" y2="310.40" stroke="#2ca02c" stroke-width="1.5"/>
<circle cx="387.10" cy="310.40" r="3.7" fill="#2ca02c"/>
<text x="401.8" y="313.40" font-size="8.4" fill="#1a1a1a" textLength="49.9" lengthAdjust="spacingAndGlyphs">SWN_300ms</text>
<line x1="378.2" y1="322.50" x2="396.0" y2="322.50" stroke="#d62728" stroke-width="1.5"/>
<circle cx="387.10" cy="322.50" r="3.7" fill="#d62728"/>
<text x="401.8" y="325.50" font-size="8.4" fill="#1a1a1a" textLength="49.9" lengthAdjust="spacingAndGlyphs">SWN_400ms</text>
<line x1="467.4" y1="310.40" x2="485.5" y2="310.40" stroke="#9467bd" stroke-width="1.5"/>
<circle cx="476.30" cy="310.40" r="3.7" fill="#9467bd"/>
<text x="491.1" y="313.40" font-size="8.4" fill="#1a1a1a" textLength="49.9" lengthAdjust="spacingAndGlyphs">SWN_500ms</text>
</svg></body></html>
